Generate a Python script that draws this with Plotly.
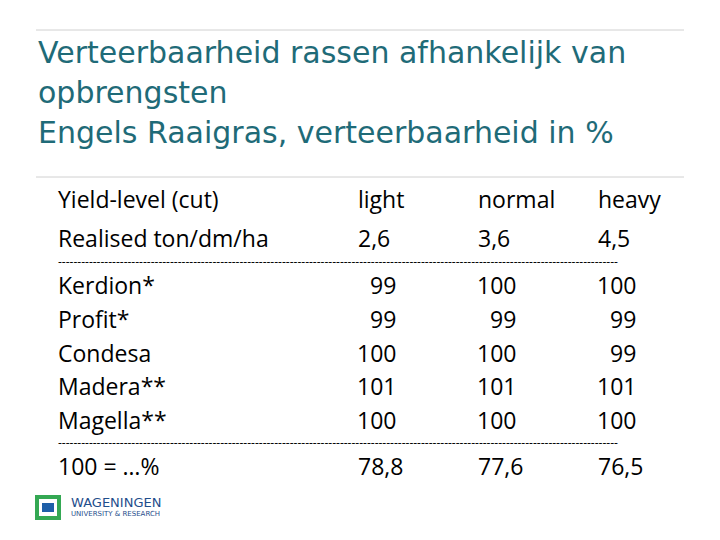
import plotly.graph_objects as go

title_lines = ["Verteerbaarheid rassen afhankelijk van", "opbrengsten", "Engels Raaigras, verteerbaarheid in %"]
header_labels = ["Yield-level (cut)", "Realised ton/dm/ha"]
levels = ["light", "normal", "heavy"]
realised = ["2,6", "3,6", "4,5"]
varieties = ["Kerdion*", "Profit*", "Condesa", "Madera**", "Magella**"]
light = [99, 99, 100, 101, 100]
normal = [100, 99, 100, 101, 100]
heavy = [100, 99, 99, 101, 100]
base_label = "100 = …%"
base_values = ["78,8", "77,6", "76,5"]

OX, OY = 9, 8
fig = go.Figure()
fig.update_xaxes(range=[OX, 720 + OX], visible=False)
fig.update_yaxes(range=[540 + OY, OY], visible=False)
fig.update_layout(width=720, height=540, margin=dict(l=0, r=0, t=0, b=0),
                  plot_bgcolor="white", paper_bgcolor="white", showlegend=False)

tcol = "#1f6b78"
for i, t in enumerate(title_lines):
    fig.add_annotation(x=37, y=52 + 40 * i, text=t, showarrow=False, xanchor="left", yanchor="middle",
                       font=dict(family="DejaVu Sans", size=30, color=tcol))
for y in [30, 177]:
    fig.add_shape(type="line", x0=37, x1=685, y0=y, y1=y, line=dict(color="#d0d0d0", width=1))

f = dict(family="Open Sans", size=23, color="black")
def txt(x, y, s, anchor="left", font=f):
    fig.add_annotation(x=x, y=y, text=str(s), showarrow=False, xanchor=anchor, yanchor="middle", font=font)

colx = [357, 477, 597]
colr = [399, 519, 639]
txt(57, 199, header_labels[0]); txt(57, 238, header_labels[1])
for j in range(3):
    txt(colx[j], 199, levels[j]); txt(colx[j], 238, realised[j])
dash = "-" * 145
fd = dict(family="Open Sans", size=12, color="black")
txt(57, 261, dash, font=fd); txt(57, 442, dash, font=fd)
rows_y = [285, 319, 353, 386, 420]
for i, v in enumerate(varieties):
    txt(57, rows_y[i], v)
    for j, arr in enumerate([light, normal, heavy]):
        txt(colr[j], rows_y[i], arr[i], "right")
txt(57, 466, base_label)
for j in range(3):
    txt(colx[j], 466, base_values[j])

# logo
fig.add_shape(type="rect", x0=36, x1=62, y0=495, y1=520, fillcolor="#34a853", line=dict(width=0))
fig.add_shape(type="rect", x0=40, x1=58, y0=499, y1=516, fillcolor="white", line=dict(width=0))
fig.add_shape(type="rect", x0=43, x1=55, y0=503, y1=512, fillcolor="#1f5fa8", line=dict(width=0))
fig.add_annotation(x=70, y=502, text="WAGENINGEN", showarrow=False, xanchor="left", yanchor="middle",
                   font=dict(family="DejaVu Sans", size=13, color="#1f4e8c"))
fig.add_annotation(x=70, y=514, text="UNIVERSITY & RESEARCH", showarrow=False, xanchor="left", yanchor="middle",
                   font=dict(family="DejaVu Sans", size=7, color="#1f4e8c"))
fig.write_html("out.html")
